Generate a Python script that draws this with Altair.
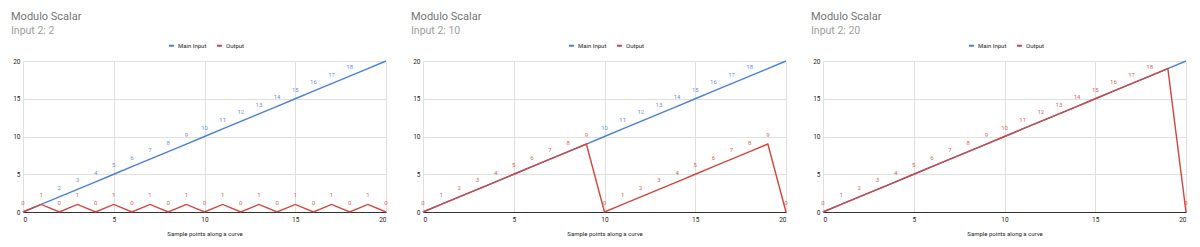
import altair as alt
import pandas as pd

# ---- data ----
x_vals = list(range(21))
main_input = [0, 1, 2, 3, 4, 5, 6, 7, 8, 9, 10, 11, 12, 13, 14, 15, 16, 17, 18, 19, 20]
output_mod2 = [0, 1, 0, 1, 0, 1, 0, 1, 0, 1, 0, 1, 0, 1, 0, 1, 0, 1, 0, 1, 0]
output_mod10 = [0, 1, 2, 3, 4, 5, 6, 7, 8, 9, 0, 1, 2, 3, 4, 5, 6, 7, 8, 9, 0]
output_mod20 = [0, 1, 2, 3, 4, 5, 6, 7, 8, 9, 10, 11, 12, 13, 14, 15, 16, 17, 18, 19, 0]
panel_inputs = [2, 10, 20]
outputs = [output_mod2, output_mod10, output_mod20]

# which data labels are visible in each panel (1 = shown)
main_label_shown = [
    [0, 0, 1, 1, 1, 1, 1, 1, 1, 1, 1, 1, 1, 1, 1, 1, 1, 1, 1, 0, 0],
    [0, 0, 0, 0, 0, 0, 0, 0, 0, 0, 1, 1, 1, 1, 1, 1, 1, 1, 1, 0, 0],
    [0] * 21,
]
output_label_shown = [
    [1] * 21,
    [1] * 21,
    [1] * 19 + [0, 1],
]

series_names = ["Main Input", "Output"]
line_colors = ["#4a7fdc", "#d2463c"]
tick_values = [0, 5, 10, 15, 20]

FONT = "Roboto"


def panel(i):
    rows = []
    for j, x in enumerate(x_vals):
        rows.append({"x": x, "y": main_input[j], "series": "Main Input",
                     "show": main_label_shown[i][j]})
    for j, x in enumerate(x_vals):
        rows.append({"x": x, "y": outputs[i][j], "series": "Output",
                     "show": output_label_shown[i][j]})
    df = pd.DataFrame(rows)

    xaxis = alt.Axis(values=tick_values, grid=True, ticks=False,
                     domain=True, domainColor="#333333", domainWidth=1,
                     labelFontSize=6.5, labelPadding=4, labelColor="#222222",
                     labelFont=FONT, labelOverlap=False, tickCount=5,
                     title="Sample points along a curve", titleFontSize=6,
                     titleFont=FONT, titleFontWeight="normal",
                     titleColor="#222222", titlePadding=8,
                     gridColor="#e0e0e0")
    yaxis = alt.Axis(values=tick_values, grid=True, ticks=False, tickCount=5,
                     domain=False, labelFontSize=6.5, labelPadding=3,
                     labelColor="#222222", labelFont=FONT, title=None,
                     labelOverlap=False, gridColor="#e0e0e0")
    xscale = alt.Scale(domain=[0, 20], nice=False)
    yscale = alt.Scale(domain=[0, 20], nice=False)
    color = alt.Color("series:N",
                      scale=alt.Scale(domain=series_names, range=line_colors),
                      legend=alt.Legend(orient="none", legendX=145, legendY=-19,
                                        direction="horizontal", title=None,
                                        symbolType="stroke", symbolStrokeWidth=2,
                                        symbolSize=25, labelFontSize=6,
                                        labelFont=FONT, labelColor="#222222",
                                        labelOffset=3, columnPadding=6))
    lines = alt.Chart(df).mark_line(strokeWidth=1.4).encode(
        x=alt.X("x:Q", scale=xscale, axis=xaxis),
        y=alt.Y("y:Q", scale=yscale, axis=yaxis),
        color=color, order="x:Q")
    labels = alt.Chart(df).transform_filter("datum.show == 1").mark_text(
        dy=-9, fontSize=6, font=FONT, opacity=0.85).encode(
        x=alt.X("x:Q", scale=xscale, axis=xaxis),
        y=alt.Y("y:Q", scale=yscale, axis=yaxis),
        text="y:Q",
        color=alt.Color("series:N", scale=alt.Scale(domain=series_names, range=line_colors),
                        legend=None))
    return alt.layer(lines, labels).properties(
        width=363, height=151,
        title=alt.TitleParams(text="Modulo Scalar", subtitle=f"Input 2: {panel_inputs[i]}",
                              anchor="start", frame="group", dx=-12, font=FONT,
                              fontSize=11, fontWeight="normal", color="#757575",
                              subtitleFont=FONT, subtitleFontSize=10.5,
                              subtitleColor="#9e9e9e", subtitlePadding=4, offset=6))


chart = alt.hconcat(panel(0), panel(1), panel(2), spacing=37, bounds="flush").resolve_scale(
    color="independent").properties(
    padding={"left": 10, "top": 10, "right": 8, "bottom": 8}
).configure_view(stroke=None).configure(background="white")

chart.save("out.html", embed_options={"renderer": "svg", "actions": False})
